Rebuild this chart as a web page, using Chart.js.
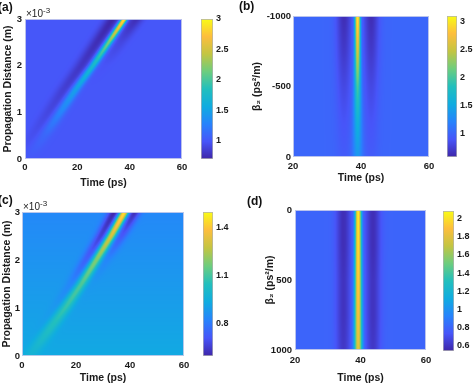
<!DOCTYPE html>
<html>
<head>
<meta charset="utf-8">
<script src="https://cdn.jsdelivr.net/npm/chart.js@4.4.1/dist/chart.umd.min.js"></script>
<style>
body { margin: 0; background: #fff; width: 474px; height: 386px; position: relative; overflow: hidden; font-family: "Liberation Sans", Arial, sans-serif; }
canvas { position: absolute; }
.tag { position: absolute; font-weight: bold; font-size: 12px; color: #111; }
.exp { position: absolute; font-size: 10px; color: #222; }
.exp sup { font-size: 8px; }
</style>
</head>
<body>
<canvas id="pa" width="200" height="193" style="left:0;top:0"></canvas>
<canvas id="ca" width="36" height="193" style="left:201px;top:0"></canvas>
<canvas id="pb" width="210" height="193" style="left:237px;top:0"></canvas>
<canvas id="cb" width="27" height="193" style="left:447px;top:0"></canvas>
<canvas id="pc" width="200" height="193" style="left:0;top:193px"></canvas>
<canvas id="cc" width="34" height="193" style="left:203px;top:193px"></canvas>
<canvas id="pd" width="210" height="193" style="left:237px;top:193px"></canvas>
<canvas id="cd" width="31" height="193" style="left:443px;top:193px"></canvas>
<div class="tag" style="left:-2px;top:0px">(a)</div>
<div class="tag" style="left:239px;top:-1px">(b)</div>
<div class="tag" style="left:-2px;top:193px">(c)</div>
<div class="tag" style="left:247px;top:194px">(d)</div>
<div class="exp" style="left:26px;top:6px">&times;10<sup>-3</sup></div>
<div class="exp" style="left:23px;top:199px">&times;10<sup>-3</sup></div>
<script>
// values, row by row along the vertical axis
// (a) distance in units of 1e-3 m
var distA   = [0, 0.5, 1, 1.5, 2, 2.5, 3];
var centerA = [1.5, 7.5, 13.5, 19.5, 26, 32, 38];
var peakA   = [1.0, 1.1, 1.3, 1.5, 1.75, 2.2, 3.0];
var widthA  = [2.0, 1.8, 1.5, 1.3, 1.1, 1.0, 0.85];
var dipLA   = [1.0, 0.95, 0.9, 0.85, 0.8, 0.75, 0.7];
var dipRA   = [1.0, 1.0, 1.0, 1.0, 0.98, 0.9, 0.75];
var bgA     = [1, 1, 1, 1, 1, 1, 1];
var cbTicksA = [1, 1.5, 2, 2.5, 3];

// (b) beta2 in ps^2/m
var betaB   = [-1000, -750, -500, -250, 0];
var centerB = [39, 39, 39, 39, 39];
var peakB   = [3.1, 2.6, 2.0, 1.6, 1.35];
var widthB  = [0.55, 0.6, 0.7, 0.85, 1.0];
var dipLB   = [0.62, 0.7, 0.8, 0.88, 0.93];
var dipRB   = [0.62, 0.7, 0.8, 0.88, 0.93];
var bgB     = [1, 1, 1, 1, 1];
var cbTicksB = [1, 1.5, 2, 2.5, 3];

// (c) distance in units of 1e-3 m
var distC   = [0, 0.5, 1, 1.5, 2, 2.5, 3];
var centerC = [3, 9.5, 16, 22, 27.5, 33, 38];
var peakC   = [0.97, 1.03, 1.08, 1.12, 1.2, 1.33, 1.5];
var widthC  = [2.0, 1.8, 1.6, 1.4, 1.3, 1.2, 1.1];
var dipLC   = [0.93, 0.91, 0.88, 0.83, 0.74, 0.66, 0.6];
var dipRC   = [0.93, 0.915, 0.9, 0.88, 0.83, 0.72, 0.62];
var bgC     = [0.93, 0.915, 0.9, 0.885, 0.87, 0.855, 0.84];
var cbTicksC = [0.8, 1.1, 1.4];

// (d) beta2 in ps^2/m
var betaD   = [0, 250, 500, 750, 1000];
var centerD = [39.3, 39.3, 39.3, 39.3, 39.3];
var peakD   = [2.05, 2.0, 1.95, 1.88, 1.8];
var widthD  = [0.65, 0.7, 0.75, 0.8, 0.85];
var dipLD   = [0.58, 0.58, 0.6, 0.6, 0.62];
var dipRD   = [0.58, 0.58, 0.6, 0.6, 0.62];
var bgD     = [0.8, 0.8, 0.8, 0.8, 0.8];
var cbTicksD = [0.6, 0.8, 1, 1.2, 1.4, 1.6, 1.8, 2];

var timeTicks = [0, 20, 40, 60];

// parula-like colour map
var parula = [
  [0.000, 62, 38, 168],
  [0.125, 71, 85, 249],
  [0.250, 39, 131, 252],
  [0.375, 16, 172, 224],
  [0.500, 34, 191, 189],
  [0.625, 109, 205, 126],
  [0.750, 195, 197, 66],
  [0.875, 253, 190, 61],
  [1.000, 249, 251, 21]
];

function cmap(f) {
  f = Math.max(0, Math.min(1, f));
  for (var i = 1; i < parula.length; i++) {
    if (f <= parula[i][0]) {
      var a = parula[i - 1], b = parula[i];
      var k = (f - a[0]) / (b[0] - a[0]);
      return [a[1] + (b[1] - a[1]) * k, a[2] + (b[2] - a[2]) * k, a[3] + (b[3] - a[3]) * k];
    }
  }
  return parula[parula.length - 1].slice(1);
}

function gauss(d, w) { return Math.exp(-d * d / (2 * w * w)); }

// linear look-up of every row quantity at position y
function rowAt(m, y) {
  var r = m.rows, n = r.length, i = 1;
  var lo = Math.min(r[0], r[n - 1]), hi = Math.max(r[0], r[n - 1]);
  y = Math.max(lo, Math.min(hi, y));
  while (i < n - 1 && y > r[i]) i++;
  var k = (y - r[i - 1]) / (r[i] - r[i - 1]);
  function at(arr) { return arr[i - 1] + (arr[i] - arr[i - 1]) * k; }
  return { c: at(m.center), p: at(m.peak), w: at(m.width), l: at(m.dipL), r: at(m.dipR), bg: at(m.bg) };
}

function heatPlugin(m) {
  return {
    id: 'heat',
    beforeDatasetsDraw: function (chart) {
      var a = chart.chartArea, xs = chart.scales.x, ys = chart.scales.y;
      var w = Math.round(a.right - a.left), h = Math.round(a.bottom - a.top);
      var off = document.createElement('canvas');
      off.width = w; off.height = h;
      var octx = off.getContext('2d');
      var img = octx.createImageData(w, h);
      for (var py = 0; py < h; py++) {
        var row = rowAt(m, ys.getValueForPixel(a.top + py + 0.5));
        for (var px = 0; px < w; px++) {
          var t = xs.getValueForPixel(a.left + px + 0.5);
          var v = row.bg + (row.p - row.bg) * gauss(t - row.c, row.w)
                + (row.l - row.bg) * gauss(t - row.c + m.off, m.dw)
                + (row.r - row.bg) * gauss(t - row.c - m.off, m.dw);
          var col = cmap((v - m.min) / (m.max - m.min));
          var j = (py * w + px) * 4;
          img.data[j] = col[0]; img.data[j + 1] = col[1]; img.data[j + 2] = col[2]; img.data[j + 3] = 255;
        }
      }
      octx.putImageData(img, 0, 0);
      var ctx = chart.ctx;
      ctx.save();
      ctx.drawImage(off, a.left, a.top);
      ctx.strokeStyle = 'rgba(200,205,235,0.9)';
      ctx.lineWidth = 1;
      ctx.strokeRect(a.left + 0.5, a.top + 0.5, w - 1, h - 1);
      ctx.restore();
    }
  };
}

var tickFont = { family: 'Liberation Sans', size: 9.5, weight: 'bold' };
var titleFont = { family: 'Liberation Sans', size: 10.5, weight: 'bold' };

// p: layout numbers for one panel
function heatmap(id, m, p) {
  return new Chart(document.getElementById(id), {
    type: 'scatter',
    data: { datasets: [] },
    plugins: [heatPlugin(m)],
    options: {
      responsive: false,
      animation: false,
      layout: { padding: { top: p.padTop, right: p.padRight, left: 0, bottom: 0 } },
      plugins: { legend: { display: false }, tooltip: { enabled: false } },
      scales: {
        x: {
          type: 'linear', min: m.tMin, max: timeTicks[timeTicks.length - 1],
          grid: { display: false, drawTicks: false }, border: { display: false },
          afterBuildTicks: function (s) { s.ticks = timeTicks.filter(function (v) { return v >= m.tMin; }).map(function (v) { return { value: v }; }); },
          afterFit: function (s) { s.height = p.xH; },
          ticks: { font: tickFont, color: '#1a1a1a', padding: p.xTickPad, maxRotation: 0, callback: function (v) { return String(v); } },
          title: { display: true, text: 'Time (ps)', font: titleFont, color: '#1a1a1a', padding: { top: 0, bottom: p.xTitlePad } }
        },
        y: {
          type: 'linear', min: m.yMin, max: m.yMax, reverse: m.reverse,
          grid: { display: false, drawTicks: false }, border: { display: false },
          afterBuildTicks: function (s) { s.ticks = m.yTicks.map(function (v) { return { value: v }; }); },
          afterFit: function (s) { s.width = p.yW; },
          ticks: { font: tickFont, color: '#1a1a1a', padding: p.yTickPad, callback: function (v) { return String(v); } },
          title: { display: true, text: m.yTitle, font: titleFont, color: '#1a1a1a', padding: { top: p.yTitlePad, bottom: 0 } }
        }
      }
    }
  });
}

function colorbar(id, lo, hi, ticks, padTop, padBottom, barW, cw) {
  return new Chart(document.getElementById(id), {
    type: 'bar',
    data: {
      labels: [''],
      datasets: [{
        data: [[lo, hi]],
        backgroundColor: function (c) {
          var ch = c.chart, y = ch.scales.y;
          if (!ch.chartArea || !y) return '#4450e8';
          var g = ch.ctx.createLinearGradient(0, y.getPixelForValue(lo), 0, y.getPixelForValue(hi));
          parula.forEach(function (s) { g.addColorStop(s[0], 'rgb(' + s[1] + ',' + s[2] + ',' + s[3] + ')'); });
          return g;
        },
        borderColor: 'rgba(170,170,170,0.9)',
        borderWidth: 1,
        borderSkipped: false,
        barPercentage: 1,
        categoryPercentage: 1
      }]
    },
    options: {
      responsive: false,
      animation: false,
      layout: { padding: { top: padTop, bottom: padBottom, left: 0, right: 0 } },
      plugins: { legend: { display: false }, tooltip: { enabled: false } },
      scales: {
        x: { display: false },
        y: {
          position: 'right', min: lo, max: hi,
          grid: { display: false, drawTicks: false }, border: { display: false },
          afterBuildTicks: function (s) { s.ticks = ticks.map(function (v) { return { value: v }; }); },
          afterFit: function (s) { s.width = cw - barW; },
          ticks: { font: { family: 'Liberation Sans', size: 9, weight: 'bold' }, color: '#1a1a1a', padding: 3, callback: function (v) { return String(+v.toFixed(3)); } }
        }
      }
    }
  });
}

var modelA = { rows: distA, center: centerA, peak: peakA, width: widthA, dipL: dipLA, dipR: dipRA, bg: bgA, off: 4.5, dw: 2.0, min: 0.7, max: 3.0, tMin: 0,
  yMin: 0, yMax: 3, yTicks: [0, 1, 2, 3], reverse: false, yTitle: 'Propagation Distance (m)' };
var modelB = { rows: betaB, center: centerB, peak: peakB, width: widthB, dipL: dipLB, dipR: dipRB, bg: bgB, off: 4.0, dw: 1.6, min: 0.57, max: 3.1, tMin: 20,
  yMin: -1000, yMax: 0, yTicks: [-1000, -500, 0], reverse: true, yTitle: 'β₂ (ps²/m)' };
var modelC = { rows: distC, center: centerC, peak: peakC, width: widthC, dipL: dipLC, dipR: dipRC, bg: bgC, off: 3.8, dw: 1.6, min: 0.6, max: 1.5, tMin: 0,
  yMin: 0, yMax: 3, yTicks: [0, 1, 2, 3], reverse: false, yTitle: 'Propagation Distance (m)' };
var modelD = { rows: betaD, center: centerD, peak: peakD, width: widthD, dipL: dipLD, dipR: dipRD, bg: bgD, off: 4.5, dw: 1.6, min: 0.545, max: 2.08, tMin: 20,
  yMin: 0, yMax: 1000, yTicks: [0, 500, 1000], reverse: true, yTitle: 'β₂ (ps²/m)' };

heatmap('pa', modelA, { padTop: 19, padRight: 18, yW: 25, xH: 34, xTickPad: 3, xTitlePad: 4, yTickPad: 3, yTitlePad: 2 });
colorbar('ca', 0.7, 3.0, cbTicksA, 19, 34, 12, 36);
heatmap('pb', modelB, { padTop: 16, padRight: 18, yW: 56, xH: 36, xTickPad: 4, xTitlePad: 9, yTickPad: 2, yTitlePad: 14 });
colorbar('cb', 0.57, 3.1, cbTicksB, 16, 36, 10, 27);
heatmap('pc', modelC, { padTop: 19, padRight: 16, yW: 22, xH: 30, xTickPad: 4, xTitlePad: 2, yTickPad: 2, yTitlePad: 1 });
colorbar('cc', 0.6, 1.5, cbTicksC, 19, 30, 10, 34);
heatmap('pd', modelD, { padTop: 17, padRight: 21, yW: 58, xH: 36, xTickPad: 5, xTitlePad: 2, yTickPad: 3, yTitlePad: 27 });
colorbar('cd', 0.545, 2.08, cbTicksD, 18, 35, 11, 31);
</script>
</body>
</html>
